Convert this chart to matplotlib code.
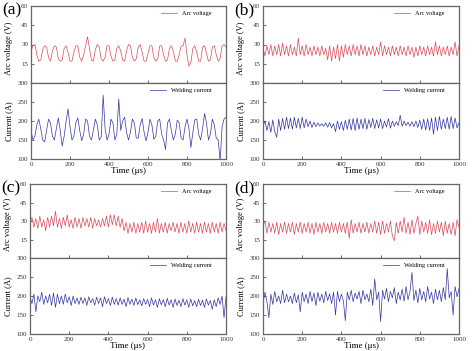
import numpy as np
import matplotlib
matplotlib.use("Agg")
import matplotlib.pyplot as plt

plt.rcParams['font.family'] = ['Liberation Serif', 'DejaVu Serif']
plt.rcParams['mathtext.fontset'] = 'stix'

# sample times (us), one value every 10 us
time_us = np.arange(0, 1001, 10)

# (a) arc voltage (V) and welding current (A)
volt_a = [25, 29, 30, 22, 17, 18, 26, 29, 28, 20, 17, 25, 29, 28, 19, 17, 18, 27, 29, 24,
          17, 17, 24, 29, 29, 20, 17, 22, 29, 36, 27, 18, 17, 26, 30, 28, 19, 17, 20, 29,
          29, 21, 17, 18, 27, 29, 25, 18, 17, 25, 30, 29, 20, 17, 19, 28, 30, 24, 17, 17,
          23, 29, 29, 20, 17, 19, 29, 29, 22, 17, 18, 27, 29, 25, 17, 17, 22, 29, 29, 35,
          22, 13, 16, 27, 29, 24, 17, 17, 28, 29, 23, 17, 18, 28, 29, 22, 17, 19, 29, 30, 28]
curr_a = [175, 150, 160, 190, 205, 180, 150, 145, 175, 205, 195, 160, 150, 180, 208, 175, 134, 160, 200, 232,
          185, 150, 160, 195, 208, 175, 148, 165, 205, 200, 160, 150, 175, 205, 190, 150, 158, 268, 180, 150,
          165, 205, 195, 150, 165, 258, 175, 200, 210, 170, 150, 170, 205, 195, 155, 155, 190, 207, 170, 148,
          170, 205, 190, 152, 160, 200, 205, 165, 150, 125, 195, 205, 175, 150, 165, 202, 195, 155, 150, 185,
          205, 180, 130, 170, 203, 205, 165, 150, 180, 220, 195, 150, 165, 205, 190, 155, 150, 95, 185, 205, 210]

# (b)
volt_b = [27, 21, 29, 22, 30, 21, 29, 22, 30, 21, 31, 22, 29, 21, 30, 22, 28, 21, 35, 22,
          29, 21, 30, 22, 28, 21, 29, 22, 28, 21, 29, 22, 27, 18, 29, 17, 28, 19, 30, 17,
          29, 20, 30, 22, 29, 21, 30, 22, 29, 21, 30, 22, 29, 21, 28, 22, 29, 21, 28, 22,
          32, 21, 29, 22, 28, 21, 29, 22, 28, 21, 29, 22, 28, 21, 29, 22, 28, 20, 28, 21,
          29, 22, 28, 21, 29, 22, 28, 21, 32, 22, 29, 21, 28, 22, 29, 21, 28, 22, 32, 21, 29]
curr_b = [185, 200, 175, 198, 170, 203, 172, 157, 205, 175, 207, 178, 210, 180, 208, 178, 210, 182, 207, 180,
          210, 182, 205, 185, 200, 183, 197, 185, 195, 187, 193, 186, 195, 184, 196, 182, 193, 172, 200, 178,
          198, 175, 202, 178, 205, 176, 207, 175, 208, 178, 205, 180, 207, 178, 204, 183, 207, 180, 203, 182,
          205, 180, 200, 184, 206, 181, 200, 186, 198, 188, 215, 186, 200, 188, 197, 186, 198, 185, 200, 183,
          202, 178, 205, 176, 206, 175, 208, 165, 210, 175, 212, 178, 205, 180, 210, 178, 212, 180, 208, 182, 195]

# (c)
volt_c = [26, 33, 25, 32, 24, 34, 25, 31, 22, 33, 25, 34, 26, 38, 25, 32, 24, 33, 26, 35,
          25, 31, 24, 33, 25, 32, 24, 33, 26, 32, 25, 33, 24, 32, 26, 31, 25, 32, 26, 34,
          25, 35, 27, 35, 26, 34, 25, 32, 22, 29, 20, 28, 21, 29, 20, 28, 21, 29, 20, 30,
          21, 28, 20, 29, 21, 32, 20, 28, 21, 29, 20, 28, 22, 29, 21, 28, 20, 29, 21, 28,
          20, 30, 21, 28, 20, 29, 21, 28, 20, 29, 21, 28, 20, 29, 21, 28, 20, 29, 21, 28, 22]
curr_c = [198, 180, 205, 158, 200, 185, 210, 178, 200, 182, 205, 175, 208, 170, 205, 180, 200, 178, 205, 182,
          198, 175, 200, 180, 195, 178, 197, 180, 195, 175, 198, 182, 193, 176, 197, 180, 195, 172, 198, 180,
          193, 175, 197, 178, 193, 176, 195, 178, 192, 172, 196, 178, 192, 175, 195, 177, 190, 174, 193, 178,
          191, 172, 195, 176, 190, 170, 193, 177, 191, 172, 194, 176, 190, 170, 192, 175, 189, 172, 193, 176,
          190, 170, 192, 174, 188, 172, 191, 175, 189, 170, 192, 176, 188, 165, 190, 172, 195, 178, 200, 143, 198]

# (d)
volt_d = [26, 30, 20, 29, 21, 28, 20, 29, 19, 28, 21, 29, 20, 28, 21, 29, 19, 28, 21, 29,
          20, 28, 21, 29, 20, 28, 19, 29, 21, 28, 20, 29, 21, 28, 20, 29, 21, 28, 20, 29,
          21, 28, 20, 29, 16, 31, 20, 28, 21, 29, 20, 28, 21, 29, 20, 28, 21, 30, 20, 29,
          19, 30, 20, 28, 21, 30, 18, 14, 29, 20, 30, 21, 33, 20, 29, 19, 31, 20, 28, 34,
          19, 30, 21, 29, 20, 31, 19, 28, 20, 30, 21, 29, 18, 30, 20, 28, 19, 29, 18, 31, 25]
curr_d = [180, 210, 185, 143, 205, 178, 212, 185, 200, 180, 215, 182, 205, 185, 200, 180, 208, 182, 203, 158,
          210, 185, 205, 180, 212, 185, 208, 175, 210, 186, 205, 182, 212, 188, 206, 180, 210, 150, 212, 185,
          205, 188, 135, 210, 190, 215, 185, 208, 192, 212, 180, 215, 190, 205, 185, 218, 175, 245, 190, 210,
          133, 215, 192, 220, 185, 212, 195, 222, 180, 210, 190, 218, 186, 225, 190, 212, 262, 188, 215, 182,
          220, 190, 212, 185, 225, 192, 210, 180, 218, 190, 215, 185, 222, 190, 272, 195, 212, 150, 225, 198, 220]

panels = [
    ("(a)", volt_a, curr_a, (31, 226, 6, 83, 159)),
    ("(b)", volt_b, curr_b, (263, 459, 6, 83, 159)),
    ("(c)", volt_c, curr_c, (30, 226, 184, 258, 334)),
    ("(d)", volt_d, curr_d, (263, 459, 184, 258, 334)),
]

W, H = 474, 351
red = '#dc4a5a'
blue = '#3434a4'
spine = '#666666'

fig = plt.figure(figsize=(W / 100, H / 100), dpi=100)


def style(ax):
    for s in ax.spines.values():
        s.set_color(spine)
        s.set_linewidth(0.9)
    ax.tick_params(direction='in', length=2, width=0.5, labelsize=5, pad=2, colors='#333333')
    ax.set_xlim(0, 1000)


for tag, volt, curr, (x0, x1, yt, ym, yb) in panels:
    ax_v = fig.add_axes([x0 / W, 1 - ym / H, (x1 - x0) / W, (ym - yt) / H])
    ax_c = fig.add_axes([x0 / W, 1 - yb / H, (x1 - x0) / W, (yb - ym) / H], sharex=ax_v)

    ax_v.plot(time_us, volt, color=red, lw=0.5, label='Arc voltage')
    ax_v.set_ylim(0, 60)
    ax_v.set_yticks([15, 30, 45, 60])
    ax_v.tick_params(axis='x', labelbottom=False)
    ax_v.set_ylabel('Arc voltage (V)', fontsize=6)
    ax_v.legend(loc='upper right', frameon=False, fontsize=4.5, handlelength=2.6,
                bbox_to_anchor=(0.95, 1.0), borderaxespad=0.3)

    ax_c.plot(time_us, curr, color=blue, lw=0.5, label='Welding current')
    ax_c.set_ylim(100, 300)
    ax_c.set_yticks([100, 150, 200, 250, 300])
    ax_c.set_xticks([0, 200, 400, 600, 800, 1000])
    ax_c.set_ylabel('Current (A)', fontsize=6)
    ax_c.set_xlabel('Time (μs)', fontsize=6.5, labelpad=0.5)
    ax_c.legend(loc='upper right', frameon=False, fontsize=4.5, handlelength=2.6,
                bbox_to_anchor=(0.95, 1.0), borderaxespad=0.3)

    for ax in (ax_v, ax_c):
        style(ax)
    ax_v.yaxis.set_label_coords(-0.09, 0.45)
    ax_c.yaxis.set_label_coords(-0.09, 0.5)

    fig.text((x0 - 19) / W, 1 - (yt + 4) / H, tag, fontsize=12.5, ha='center', va='center')

fig.savefig('out.png', dpi=100)
